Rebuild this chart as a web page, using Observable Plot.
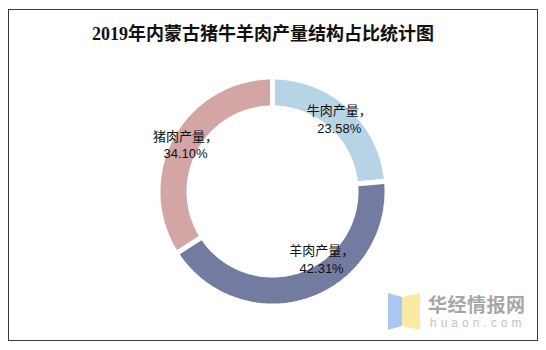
<!DOCTYPE html>
<html>
<head>
<meta charset="utf-8">
<script src="https://cdn.jsdelivr.net/npm/d3@7"></script>
<script src="https://cdn.jsdelivr.net/npm/@observablehq/plot@0.6"></script>
<style>
  html, body { margin: 0; padding: 0; background: #fff; }
  #wrap { position: relative; width: 546px; height: 350px; overflow: hidden; }
  #frame { position: absolute; left: 8px; top: 9px; border: 1.5px solid #3c3c3c; box-sizing: border-box; width: 530px; height: 332px; }
  #title { position: absolute; left: 0; width: 526px; top: 19px; text-align: center;
    font-family: "Liberation Serif", "DejaVu Serif", "Noto Sans CJK SC", serif; font-weight: bold; font-size: 18px; color: #111; }
  #chart { position: absolute; left: 0; top: 0; }
  #wm { position: absolute; left: 386px; top: 290px; width: 145px; height: 45px; }
  #wm .cn { position: absolute; left: 42px; top: 2px; font-family: "Noto Sans CJK SC", sans-serif; font-weight: bold; font-size: 19px; color: #a6a6a6; letter-spacing: 0.5px; line-height: 24px; }
  #wm .en { position: absolute; left: 44px; top: 26px; font-family: "Liberation Sans", sans-serif; font-size: 12px; color: #c2c2c2; letter-spacing: 4px; line-height: 14px; }
</style>
</head>
<body>
<div id="wrap">
  <div id="chart"></div>
  <div id="frame"></div>
  <div id="title"></div>
  <div id="wm">
    <svg width="40" height="45" style="position:absolute;left:0;top:0">
      <polygon points="2,3 16,7 16,36 2,40" fill="#a9c9f2"/>
      <polygon points="16,7 34,3 34,40 16,36" fill="#fbe9a6"/>
    </svg>
    <div class="cn">华经情报网</div>
    <div class="en">huaon.com</div>
  </div>
</div>
<script>
const title = "2019年内蒙古猪牛羊肉产量结构占比统计图";
const categories = ["牛肉产量", "羊肉产量", "猪肉产量"];
const shares = [23.58, 42.31, 34.10];
const colors = ["#b6d4e6", "#737ca0", "#d4a5a5"];

document.getElementById("title").textContent = title;

const W = 546, H = 350, cx = 272, cy = 191;
const rOuter = 114.5, rInner = 83.5, rLabel = 99;

const pie = d3.pie().sort(null).value((d, i) => shares[i])(categories);

// polygon points for each slice, in pixel-like units centred at the ring centre (y up)
const pts = [];
pie.forEach((p, i) => {
  const name = categories[i];
  const n = Math.max(8, Math.ceil((p.endAngle - p.startAngle) / 0.02));
  const ring = [];
  for (let k = 0; k <= n; k++) {
    const a = p.startAngle + (p.endAngle - p.startAngle) * k / n;
    ring.push({name, x: rOuter * Math.sin(a), y: rOuter * Math.cos(a)});
  }
  for (let k = n; k >= 0; k--) {
    const a = p.startAngle + (p.endAngle - p.startAngle) * k / n;
    ring.push({name, x: rInner * Math.sin(a), y: rInner * Math.cos(a)});
  }
  ring.push({...ring[0]});
  pts.push(...ring);
});

// label nudges (the large lower slice's label is pulled inwards, as in the source)
const nudge = {"羊肉产量": {dx: 17, dy: -27}};
const labels = pie.map((p, i) => {
  const a = (p.startAngle + p.endAngle) / 2;
  const name = categories[i];
  return {
    name,
    x: rLabel * Math.sin(a),
    y: rLabel * Math.cos(a),
    text: name + "，\n" + shares[i].toFixed(2) + "%",
    dx: (nudge[name] || {}).dx || 0,
    dy: (nudge[name] || {}).dy || 0
  };
});

const plot = Plot.plot({
  width: W, height: H,
  margin: 0,
  x: {domain: [-cx, W - cx], range: [0, W], axis: null},
  y: {domain: [-(H - cy), cy], range: [H, 0], axis: null},
  color: {domain: categories, range: colors},
  style: {background: "transparent"},
  marks: [
    Plot.line(pts, {x: "x", y: "y", z: "name", fill: "name", stroke: "white", strokeWidth: 5, strokeLinejoin: "miter", curve: "linear"}),
    ...labels.map(l => Plot.text([l], {
      x: "x", y: "y", text: "text", dx: l.dx, dy: l.dy,
      fontSize: 13, lineHeight: 1.35, fill: "#111",
      fontFamily: "'Liberation Sans', 'Noto Sans CJK SC', sans-serif"
    }))
  ]
});
document.getElementById("chart").appendChild(plot);
</script>
</body>
</html>
